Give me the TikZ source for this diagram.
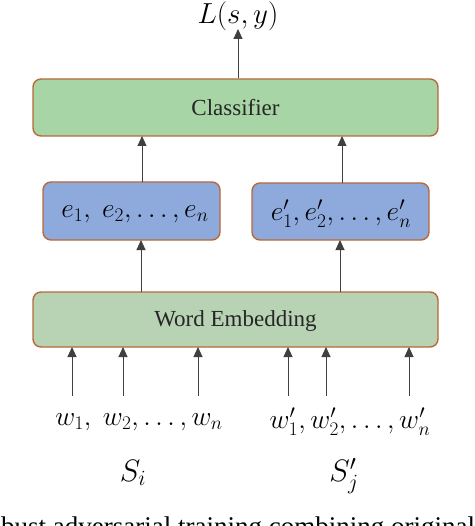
\documentclass[tikz,border=0pt]{standalone}
\usepackage{fix-cm}
\usepackage{fontspec}
\setmainfont{Liberation Serif}
\usetikzlibrary{arrows.meta}
\definecolor{clsgreen}{HTML}{A8D5A6}
\definecolor{embgreen}{HTML}{B7D3B3}
\definecolor{eblue}{HTML}{8EA9DB}
\definecolor{bordr}{HTML}{B8693A}
\definecolor{arr}{HTML}{404040}
\tikzset{
  box/.style={draw=bordr, line width=1.4pt, rounded corners=8pt, inner sep=0pt},
  conn/.style={draw=arr, line width=0.9pt, -{Triangle[length=10pt,width=9pt]}},
  lbl/.style={font=\fontsize{23}{27}\selectfont, text=black!85, inner sep=0pt},
  mlbl/.style={font=\fontsize{27.5}{31}\selectfont, inner sep=0pt},
}
\begin{document}
\begin{tikzpicture}[x=1pt,y=-1pt]
\useasboundingbox (0,0) rectangle (474,526);
\fill[white] (0,0) rectangle (474,526);
% boxes
\node[box, fill=clsgreen, minimum width=405pt, minimum height=57pt] (cls) at (235.5,107.5) {};
\node[lbl] (clst) at (235.5,108) {Classifier};
\node[box, fill=eblue, minimum width=177pt, minimum height=58pt] (e1) at (131.5,211) {};
\node[box, fill=eblue, minimum width=177pt, minimum height=57pt] (e2) at (340.5,211.5) {};
\node[mlbl] (e1t) at (135,214) {$e_1,\ e_2, \ldots, e_n$};
\node[mlbl] (e2t) at (341,214) {$e_1', e_2', \ldots, e_n'$};
\node[box, fill=embgreen, minimum width=405pt, minimum height=55pt] (emb) at (235.5,319.5) {};
\node[lbl] (embt) at (235.5,321) {Word Embedding};
% output
\node[font=\fontsize{29}{33}\selectfont, inner sep=0pt] (loss) at (238,16) {$L(s,y)$};
\draw[conn] (cls.north -| loss) -- (238,29) coordinate (lossb);
% inter arrows
\draw[conn] (142,182) -- (142,136);
\draw[conn] (342,183) -- (342,136);
\draw[conn] (141,292) -- (141,240);
\draw[conn] (340,292) -- (340,240);
% input arrows
\foreach \x/\n in {72/a,123/b,198/c,288/d,326/e,409/f}{
  \coordinate (in\n) at (\x,396);
  \draw[conn] (in\n) -- (\x,347);
}
% word labels
\node[mlbl] (w1) at (139,422) {$w_1,\ w_2, \ldots, w_n$};
\node[mlbl] (w2) at (350,422) {$w_1', w_2', \ldots, w_n'$};
\node[font=\fontsize{31}{35}\selectfont, inner sep=0pt] (si) at (133,473) {$S_i$};
\node[font=\fontsize{31}{35}\selectfont, inner sep=0pt] (sj) at (344,476) {$S_j'$};
% clipped caption
\begin{scope}
\clip (0,0) rectangle (474,526);
\node[anchor=base west, font=\fontsize{27}{31}\selectfont, inner sep=0pt] (cap) at (1,535) {bust adversarial training combining original};
\end{scope}
\end{tikzpicture}
\end{document}
